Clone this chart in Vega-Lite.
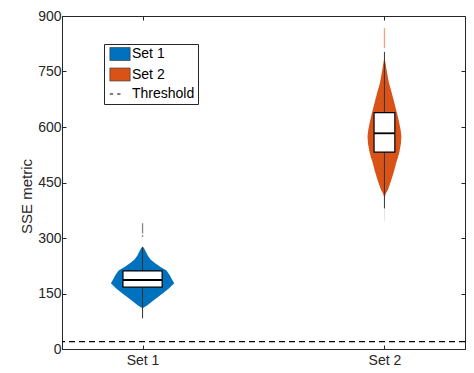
{
  "$schema": "https://vega.github.io/schema/vega-lite/v6.json",
  "width": 403,
  "height": 333,
  "autosize": {"type": "none"},
  "padding": {"left": 62, "top": 16, "right": 9, "bottom": 24},
  "background": "white",
  "config": {
    "font": "Liberation Sans",
    "view": {"stroke": "#262626", "strokeWidth": 1},
    "axis": {
      "grid": false,
      "domainColor": "#262626",
      "tickColor": "#262626",
      "labelColor": "#262626",
      "titleColor": "#262626",
      "labelFont": "Liberation Sans",
      "titleFont": "Liberation Sans",
      "labelFontSize": 14,
      "titleFontSize": 15,
      "titleFontWeight": "normal",
      "tickSize": -4,
      "tickWidth": 1,
      "domainWidth": 1
    }
  },
  "datasets": {
    "violin": [
      {"set": "Set 1", "value": 111, "w": 0.002},
      {"set": "Set 1", "value": 118, "w": 0.02},
      {"set": "Set 1", "value": 132, "w": 0.046},
      {"set": "Set 1", "value": 150, "w": 0.083},
      {"set": "Set 1", "value": 164, "w": 0.11},
      {"set": "Set 1", "value": 178, "w": 0.131},
      {"set": "Set 1", "value": 190, "w": 0.12},
      {"set": "Set 1", "value": 200, "w": 0.112},
      {"set": "Set 1", "value": 212, "w": 0.099},
      {"set": "Set 1", "value": 222, "w": 0.073},
      {"set": "Set 1", "value": 232, "w": 0.052},
      {"set": "Set 1", "value": 242, "w": 0.033},
      {"set": "Set 1", "value": 252, "w": 0.022},
      {"set": "Set 1", "value": 262, "w": 0.014},
      {"set": "Set 1", "value": 270, "w": 0.008},
      {"set": "Set 1", "value": 276, "w": 0.002},
      {"set": "Set 2", "value": 405, "w": 0.001},
      {"set": "Set 2", "value": 412, "w": 0.002},
      {"set": "Set 2", "value": 420, "w": 0.006},
      {"set": "Set 2", "value": 430, "w": 0.014},
      {"set": "Set 2", "value": 448, "w": 0.024},
      {"set": "Set 2", "value": 466, "w": 0.033},
      {"set": "Set 2", "value": 484, "w": 0.041},
      {"set": "Set 2", "value": 502, "w": 0.048},
      {"set": "Set 2", "value": 518, "w": 0.056},
      {"set": "Set 2", "value": 533, "w": 0.062},
      {"set": "Set 2", "value": 555, "w": 0.068},
      {"set": "Set 2", "value": 575, "w": 0.07},
      {"set": "Set 2", "value": 592, "w": 0.067},
      {"set": "Set 2", "value": 615, "w": 0.06},
      {"set": "Set 2", "value": 637, "w": 0.052},
      {"set": "Set 2", "value": 655, "w": 0.045},
      {"set": "Set 2", "value": 673, "w": 0.038},
      {"set": "Set 2", "value": 695, "w": 0.029},
      {"set": "Set 2", "value": 718, "w": 0.019},
      {"set": "Set 2", "value": 735, "w": 0.014},
      {"set": "Set 2", "value": 750, "w": 0.01},
      {"set": "Set 2", "value": 766, "w": 0.006},
      {"set": "Set 2", "value": 781, "w": 0.002}
    ],
    "stats": [
      {"set": "Set 1", "lo": 83, "q1": 167, "median": 186.5, "q3": 211, "hi": 276, "bw": 0.081},
      {"set": "Set 2", "lo": 380, "q1": 532, "median": 583, "q3": 639, "hi": 803, "bw": 0.043}
    ],
    "outliers": [
      {"set": "Set 1", "from": 312, "to": 340},
      {"set": "Set 1", "from": 303, "to": 308},
      {"set": "Set 2", "from": 813, "to": 868}
    ],
    "tail": [
      {"set": "Set 2", "from": 346, "to": 380}
    ],
    "threshold": [
      {"name": "Threshold", "value": 20}
    ]
  },
  "layer": [
    {
      "data": {"name": "violin"},
      "transform": [
        {"calculate": "datum.set === 'Set 1' ? 1 : 2", "as": "pos"},
        {"calculate": "datum.pos - datum.w", "as": "xlo"},
        {"calculate": "datum.pos + datum.w", "as": "xhi"}
      ],
      "mark": {"type": "area", "orient": "horizontal", "interpolate": "linear", "opacity": 1},
      "encoding": {
        "y": {
          "field": "value", "type": "quantitative",
          "scale": {"domain": [0, 900], "nice": false, "zero": false},
          "axis": {"values": [0, 150, 300, 450, 600, 750, 900], "title": "SSE metric", "labelPadding": 5, "titleX": -28, "titleY": 180}
        },
        "x": {
          "field": "xlo", "type": "quantitative",
          "scale": {"domain": [0.667, 2.333], "nice": false, "zero": false},
          "axis": {"values": [1, 2], "labelExpr": "datum.value === 1 ? 'Set 1' : 'Set 2'", "title": null, "labelPadding": 8}
        },
        "x2": {"field": "xhi"},
        "color": {
          "field": "set", "type": "nominal",
          "scale": {"domain": ["Set 1", "Set 2", "Threshold"], "range": ["#0072BD", "#D95319", "#000000"]},
          "legend": {
            "title": null,
            "orient": "none",
            "legendX": 42,
            "legendY": 28,
            "strokeColor": "#262626",
            "fillColor": "white",
            "padding": 3,
            "labelFontSize": 14,
            "labelColor": "#000000",
            "labelFont": "Liberation Sans",
            "symbolSize": 196,
            "symbolOffset": 6,
            "labelOffset": 5,
            "rowPadding": 4.5,
            "symbolOpacity": 1,
            "symbolType": {"expr": "datum.value === 'Threshold' ? 'M-1.45,0H-0.98M-0.4,0H0.07' : 'M-1.45,-0.93H1.45V0.93H-1.45Z'"},
            "symbolStrokeColor": {"expr": "datum.value === 'Threshold' ? '#000000' : '#333333'"},
            "symbolStrokeWidth": {"expr": "datum.value === 'Threshold' ? 1.2 : 0.6"}
          }
        }
      }
    },
    {
      "data": {"name": "tail"},
      "transform": [{"calculate": "datum.set === 'Set 1' ? 1 : 2", "as": "pos"}],
      "mark": {"type": "rule", "stroke": "#e4e4e4", "strokeWidth": 1},
      "encoding": {
        "x": {"field": "pos", "type": "quantitative", "axis": null},
        "y": {"field": "from", "type": "quantitative", "axis": null},
        "y2": {"field": "to"}
      }
    },
    {
      "data": {"name": "outliers"},
      "transform": [{"calculate": "datum.set === 'Set 1' ? 1 : 2", "as": "pos"}],
      "mark": {"type": "rule", "strokeWidth": 1.3},
      "encoding": {
        "x": {"field": "pos", "type": "quantitative", "axis": null},
        "y": {"field": "from", "type": "quantitative", "axis": null},
        "y2": {"field": "to"},
        "stroke": {"condition": {"test": "datum.set === 'Set 1'", "value": "#888888"}, "value": "#F2A47F"}
      }
    },
    {
      "data": {"name": "stats"},
      "transform": [{"calculate": "datum.set === 'Set 1' ? 1 : 2", "as": "pos"}],
      "mark": {"type": "rule", "stroke": "#333333", "strokeWidth": 1},
      "encoding": {
        "x": {"field": "pos", "type": "quantitative", "axis": null},
        "y": {"field": "lo", "type": "quantitative", "axis": null},
        "y2": {"field": "hi"}
      }
    },
    {
      "data": {"name": "stats"},
      "transform": [
        {"calculate": "datum.set === 'Set 1' ? 1 : 2", "as": "pos"},
        {"calculate": "datum.pos - datum.bw", "as": "blo"},
        {"calculate": "datum.pos + datum.bw", "as": "bhi"}
      ],
      "mark": {"type": "rect", "fill": "white", "stroke": "#000000", "strokeWidth": 1.2},
      "encoding": {
        "x": {"field": "blo", "type": "quantitative", "axis": {"orient": "top", "values": [1, 2], "labels": false, "domain": false, "title": null}},
        "x2": {"field": "bhi"},
        "y": {"field": "q1", "type": "quantitative", "axis": {"orient": "right", "values": [0, 150, 300, 450, 600, 750, 900], "labels": false, "domain": false, "title": null}},
        "y2": {"field": "q3"}
      }
    },
    {
      "data": {"name": "stats"},
      "transform": [
        {"calculate": "datum.set === 'Set 1' ? 1 : 2", "as": "pos"},
        {"calculate": "datum.pos - datum.bw", "as": "blo"},
        {"calculate": "datum.pos + datum.bw", "as": "bhi"}
      ],
      "mark": {"type": "rule", "stroke": "#000000", "strokeWidth": 1.8},
      "encoding": {
        "x": {"field": "blo", "type": "quantitative", "axis": null},
        "x2": {"field": "bhi"},
        "y": {"field": "median", "type": "quantitative", "axis": null}
      }
    },
    {
      "data": {"name": "threshold"},
      "mark": {"type": "rule", "strokeDash": [6, 4], "strokeWidth": 1.3, "stroke": "#000000"},
      "encoding": {
        "y": {"field": "value", "type": "quantitative", "axis": null}
      }
    }
  ],
  "resolve": {"axis": {"x": "independent", "y": "independent"}}
}
